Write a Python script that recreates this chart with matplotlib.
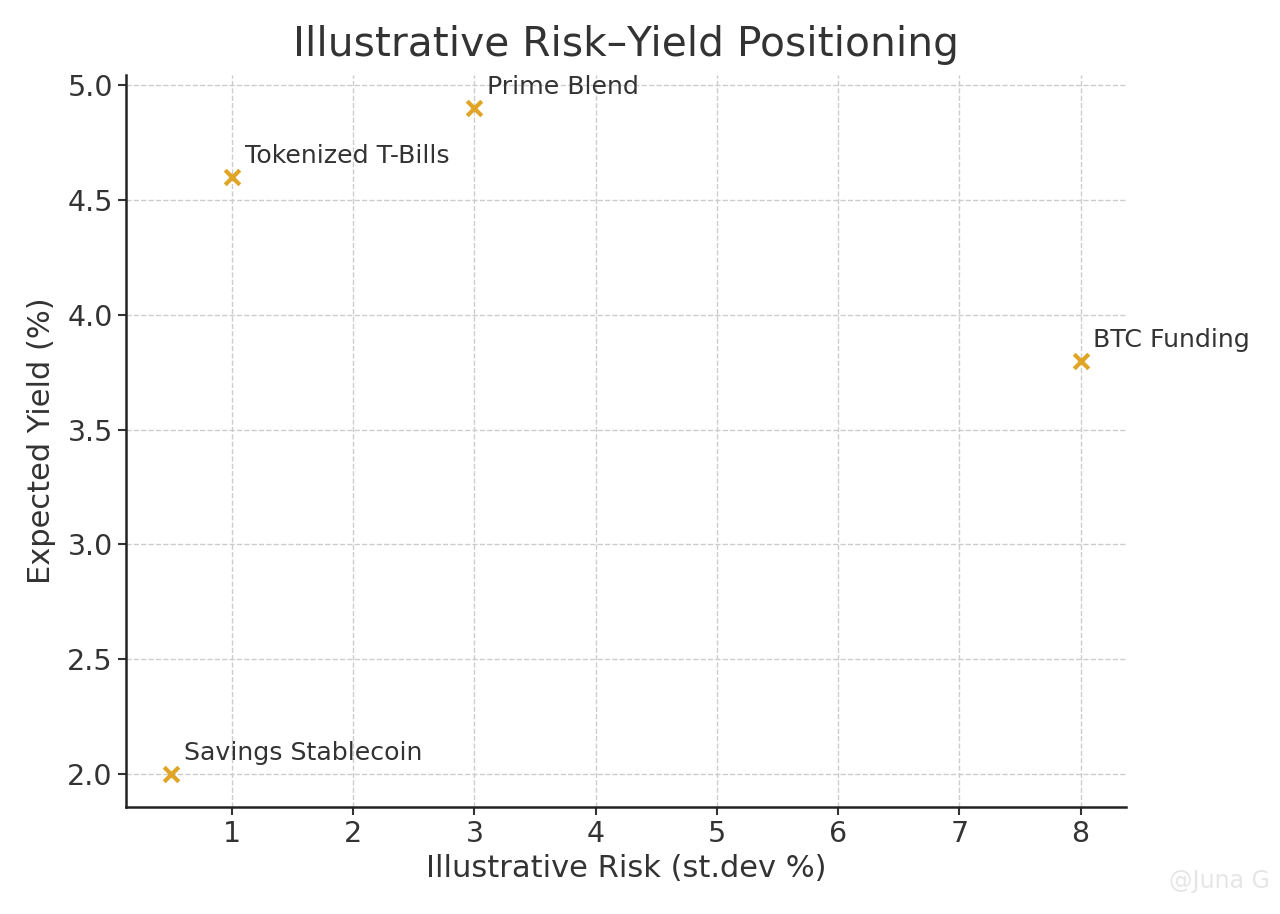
import matplotlib
matplotlib.use("Agg")
import matplotlib.pyplot as plt

names = ["Savings Stablecoin", "Tokenized T-Bills", "Prime Blend", "BTC Funding"]
risk = [0.5, 1.0, 3.0, 8.0]
yld = [2.0, 4.6, 4.9, 3.8]

fig = plt.figure(figsize=(12.8, 9.14), dpi=100)
ax = fig.add_axes([0.0984, 0.117, 0.7813, 0.801])

ax.scatter(risk, yld, marker="x", s=110, linewidths=3, color="#E0A526", zorder=3)
for n, x, y in zip(names, risk, yld):
    ax.annotate(n, (x, y), xytext=(9, 10), textcoords="offset points",
                fontsize=18.2, color="#333333")

ax.set_title("Illustrative Risk\u2013Yield Positioning", fontsize=29.3, color="#333333", pad=14)
ax.set_xlabel("Illustrative Risk (st.dev %)", fontsize=22, color="#333333")
ax.set_ylabel("Expected Yield (%)", fontsize=22, color="#333333", labelpad=8)
ax.tick_params(labelsize=20.5, colors="#333333", length=6, width=1.5)
ax.grid(True, linestyle="--", color="#cccccc", linewidth=1)
ax.set_axisbelow(True)
for s in ["top", "right"]:
    ax.spines[s].set_visible(False)
for s in ["left", "bottom"]:
    ax.spines[s].set_linewidth(1.8)
    ax.spines[s].set_color("#222222")

fig.text(0.913, 0.028, "@Juna G", fontsize=17, color="#e6e6e6")

fig.savefig("out.png", dpi=100)
